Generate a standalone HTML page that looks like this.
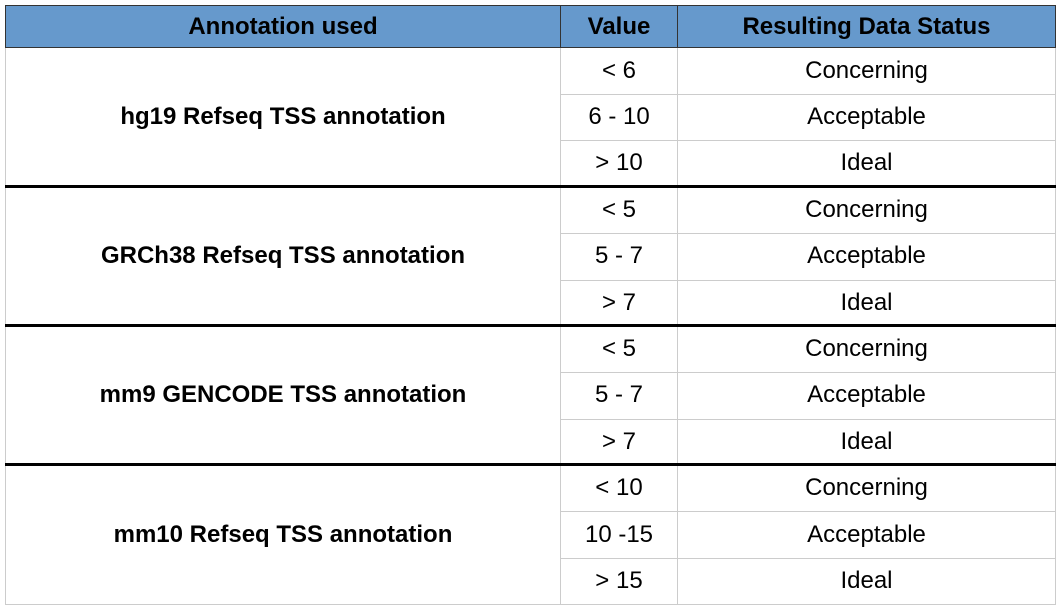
<!DOCTYPE html><html><head><style>
body{margin:0;background:#fff;width:1061px;height:613px;position:relative;font-family:"Liberation Sans",sans-serif;color:#000;overflow:hidden}
.c{position:absolute;display:flex;align-items:center;justify-content:center;font-size:24px;box-sizing:border-box}
.h{font-weight:bold;background:#6699cc;top:5px;height:43px;border:1px solid #333}
.b{font-weight:bold}
.l{position:absolute;background:#ccc}
.t{position:absolute;background:#000;height:3px;left:5px;width:1051px}
</style></head><body>
<div class="c h" style="left:5px;width:556px">Annotation used</div>
<div class="c h" style="left:560px;width:118px">Value</div>
<div class="c h" style="left:677px;width:379px">Resulting Data Status</div>
<div class="l" style="left:5px;top:48px;width:1px;height:557px"></div>
<div class="l" style="left:1055px;top:48px;width:1px;height:557px"></div>
<div class="l" style="left:560px;top:48px;width:1px;height:557px"></div>
<div class="l" style="left:677px;top:48px;width:1px;height:557px"></div>
<div class="l" style="left:5px;top:604px;width:1051px;height:1px"></div>
<div id="g"></div>
<script>
var groups=[["hg19 Refseq TSS annotation","< 6","6 - 10","> 10"],["GRCh38 Refseq TSS annotation","< 5","5 - 7","> 7"],["mm9 GENCODE TSS annotation","< 5","5 - 7","> 7"],["mm10 Refseq TSS annotation","< 10","10 -15","> 15"]];
var st=["Concerning","Acceptable","Ideal"],h="",top0=47.5,rh=46.4;
groups.forEach(function(g,i){var gt=top0+i*rh*3;
h+='<div class="c b" style="left:5px;width:556px;top:'+gt+'px;height:'+(rh*3)+'px">'+g[0]+'</div>';
for(var r=0;r<3;r++){var y=gt+r*rh;
h+='<div class="c" style="left:560px;width:118px;top:'+y+'px;height:'+rh+'px">'+g[r+1].replace('<','&lt;').replace('>','&gt;')+'</div>';
h+='<div class="c" style="left:677px;width:379px;top:'+y+'px;height:'+rh+'px">'+st[r]+'</div>';
if(r>0)h+='<div class="l" style="left:560px;width:496px;top:'+Math.round(y)+'px;height:1px"></div>';}
if(i>0)h+='<div class="t" style="top:'+(Math.round(gt)-2)+'px"></div>';});
document.getElementById('g').innerHTML=h;
</script>
</body></html>
